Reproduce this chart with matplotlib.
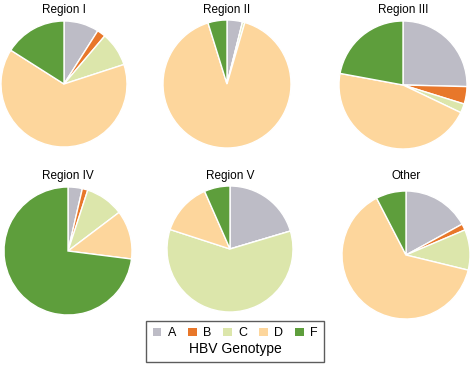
import matplotlib
matplotlib.use("Agg")
import matplotlib.pyplot as plt
from matplotlib.patches import Patch

plt.rcParams['font.family'] = ['Liberation Sans', 'DejaVu Sans']

# HBV genotype shares (%) per region, order A, B, C, D, F
genotypes = ['A', 'B', 'C', 'D', 'F']
regions = ['Region I', 'Region II', 'Region III', 'Region IV', 'Region V', 'Other']
region_1 = [9.0, 2.2, 8.8, 64.0, 16.0]
region_2 = [3.9, 0.0, 0.6, 90.7, 4.8]
region_3 = [25.4, 4.4, 2.3, 45.8, 22.1]
region_4 = [3.6, 1.4, 9.7, 12.3, 73.0]
region_5 = [20.4, 0.0, 59.6, 13.4, 6.6]
other = [17.0, 1.6, 10.2, 63.6, 7.6]
values = [region_1, region_2, region_3, region_4, region_5, other]

colors = ['#bdbcc6', '#e8772a', '#dce6ab', '#fdd69c', '#5e9e3c']

W, H = 474, 366
fig = plt.figure(figsize=(W / 100, H / 100), dpi=100)

# pie centres and radii in pixels (x, y from top)
centres = [(64, 84, 63), (227, 84, 64), (403, 85, 64),
           (68, 251, 64), (230, 249, 63), (406, 255, 64)]
title_y = [10, 10, 10, 176, 176, 176]

for name, vals, (cx, cy, r), ty in zip(regions, values, centres, title_y):
    ax = fig.add_axes([(cx - r) / W, 1 - (cy + r) / H, 2 * r / W, 2 * r / H])
    ax.pie(vals, colors=colors, startangle=90, counterclock=False,
           wedgeprops=dict(edgecolor='white', linewidth=1.0))
    ax.set_xlim(-1, 1)
    ax.set_ylim(-1, 1)
    ax.set_aspect('equal')
    ax.axis('off')
    fig.text(cx / W, 1 - ty / H, name, ha='center', va='center', fontsize=8.5)

handles = [Patch(facecolor=c, edgecolor='none') for c in colors]
leg = fig.legend(handles, genotypes, ncol=5, loc='center',
                 bbox_to_anchor=(235 / W, 1 - 341.5 / H),
                 title='HBV Genotype', title_fontsize=10, fontsize=9,
                 frameon=True, fancybox=False, edgecolor='#333333',
                 handlelength=0.7, handleheight=0.7, handletextpad=0.5,
                 columnspacing=0.95, borderpad=0.5, borderaxespad=0,
                 labelspacing=0.2)
leg.get_frame().set_linewidth(1.0)
# put the title under the entries
leg._legend_box._children = leg._legend_box._children[::-1]

fig.savefig('out.png', dpi=100)
